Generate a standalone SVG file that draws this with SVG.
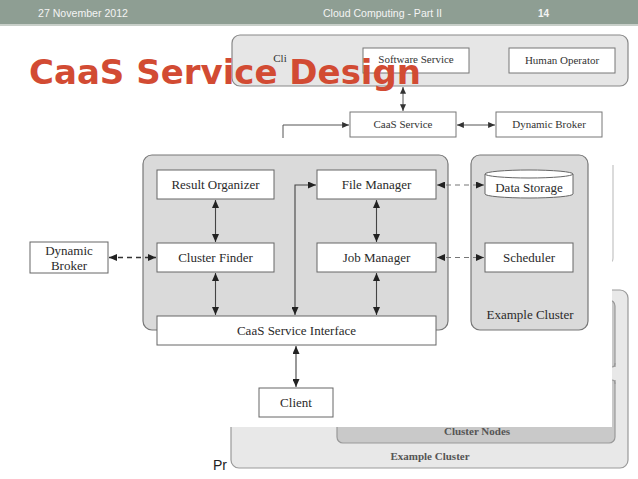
<svg xmlns="http://www.w3.org/2000/svg" width="638" height="479" viewBox="0 0 638 479">
<defs>
<marker id="ah" viewBox="0 0 8 7" refX="8" refY="3.5" markerWidth="8" markerHeight="7" markerUnits="userSpaceOnUse" orient="auto-start-reverse">
<path d="M0,0 L8,3.5 L0,7 Z" fill="#222"/>
</marker>
<marker id="ahs" viewBox="0 0 8 7" refX="8" refY="3.5" markerWidth="7" markerHeight="6" markerUnits="userSpaceOnUse" orient="auto-start-reverse">
<path d="M0,0 L8,3.5 L0,7 Z" fill="#333"/>
</marker>
</defs>
<style>
.hdr{font-family:"Liberation Sans",Arial,sans-serif;font-size:10px;fill:#f4f4f4}
.t{font-family:"Liberation Serif","Times New Roman",serif;font-size:13px;fill:#2a2a2a;text-anchor:middle}
.ts{font-family:"Liberation Serif","Times New Roman",serif;font-size:11px;fill:#333;text-anchor:middle}
.tb{font-family:"Liberation Serif","Times New Roman",serif;font-size:11px;font-weight:bold;fill:#555;text-anchor:middle}
.box{fill:#fff;stroke:#666;stroke-width:1}
.bbox{fill:#fff;stroke:#777;stroke-width:1}
.cont{fill:#dadada;stroke:#777;stroke-width:1.2}
.ln{fill:none;stroke:#444;stroke-width:1.1}
.dash{fill:none;stroke:#333;stroke-width:1.4;stroke-dasharray:5 4}
.dashg{fill:none;stroke:#777;stroke-width:1.2;stroke-dasharray:5 4}
.lns{fill:none;stroke:#555;stroke-width:1}
</style>
<rect x="0" y="0" width="638" height="479" fill="#fff"/>
<!-- header -->
<rect x="0" y="0" width="638" height="24" fill="#8e9e93"/>
<rect x="0" y="24" width="638" height="2" fill="#c8cfc9"/>
<text class="hdr" x="38" y="17" textLength="90" lengthAdjust="spacingAndGlyphs">27 November 2012</text>
<text class="hdr" x="323" y="17" textLength="119" lengthAdjust="spacingAndGlyphs">Cloud Computing - Part II</text>
<text class="hdr" x="538" y="17" font-weight="bold" font-size="11">14</text>
<!-- slide body text partially hidden -->
<text x="213" y="470" font-family="Liberation Sans,Arial,sans-serif" font-size="14" fill="#222">Pr</text>
<!-- background image: lower cluster -->
<g id="bg-example-cluster">
<rect x="231" y="290" width="397" height="178" rx="8" fill="#e8e8e8" stroke="#999" stroke-width="1.2"/>
<text class="tb" x="430" y="460">Example Cluster</text>
</g>
<g id="bg-cluster-nodes">
<rect x="337" y="300" width="278" height="143" rx="6" fill="#c9c9c9" stroke="#999" stroke-width="1.2"/>
<rect x="612" y="367" width="6" height="13" fill="#e8e8e8"/>
<path d="M612,367 q3,0 3,-4 M612,380 q3,0 3,4" fill="none" stroke="#999" stroke-width="1.2"/>
<text class="tb" x="477" y="435" fill="#444">Cluster Nodes</text>
</g>
<path d="M613,165 V258 q0,4 -3,4" fill="none" stroke="#c4c4c4" stroke-width="1.2"/>
<!-- background image: top -->
<g id="bg-client-region">
<rect x="232" y="35" width="396" height="51" rx="8" fill="#e6e6e6" stroke="#888" stroke-width="1.2"/>
<text class="ts" x="280" y="62" text-anchor="start">Cli</text>
</g>
<g id="bg-software-service">
<rect class="bbox" x="363" y="48" width="106" height="25"/>
<text class="ts" x="416" y="63">Software Service</text>
</g>
<g id="bg-human-operator">
<rect class="bbox" x="509" y="48" width="106" height="25"/>
<text class="ts" x="562" y="64">Human Operator</text>
</g>
<g id="bg-caas-service">
<rect class="bbox" x="350" y="112" width="106" height="25"/>
<text class="ts" x="403" y="128">CaaS Service</text>
</g>
<g id="bg-dynamic-broker">
<rect class="bbox" x="496" y="112" width="106" height="25"/>
<text class="ts" x="549" y="128">Dynamic Broker</text>
</g>
<g id="bg-connectors">
<path class="lns" d="M403,87 V111" marker-start="url(#ahs)" marker-end="url(#ahs)"/>
<path class="lns" d="M457,125 H495" marker-start="url(#ahs)" marker-end="url(#ahs)"/>
<path class="lns" d="M283,138 V125 H349" marker-end="url(#ahs)"/>
</g>
<!-- title -->
<text x="29" y="84" font-family="DejaVu Sans,Liberation Sans,Arial,sans-serif" font-size="34" font-weight="bold" fill="#d24b33">CaaS Service Design</text>
<!-- front image -->
<rect x="20" y="139" width="592" height="288" fill="#fff"/>
<g id="caas-container">
<rect class="cont" x="143" y="155" width="305" height="175" rx="9"/>
</g>
<g id="example-cluster">
<rect class="cont" x="471" y="155" width="117" height="175" rx="9"/>
<text class="t" x="530" y="319">Example Cluster</text>
</g>
<g id="result-organizer">
<rect class="box" x="157" y="170" width="117" height="29"/>
<text class="t" x="215.5" y="189">Result Organizer</text>
</g>
<g id="cluster-finder">
<rect class="box" x="157" y="243" width="117" height="29"/>
<text class="t" x="215.5" y="262">Cluster Finder</text>
</g>
<g id="dynamic-broker">
<rect class="box" x="30" y="242" width="78" height="31"/>
<text class="t" x="69" y="255">Dynamic</text>
<text class="t" x="69" y="270">Broker</text>
</g>
<g id="file-manager">
<rect class="box" x="317" y="170" width="119" height="29"/>
<text class="t" x="376.5" y="189">File Manager</text>
</g>
<g id="job-manager">
<rect class="box" x="317" y="243" width="119" height="29"/>
<text class="t" x="376.5" y="262">Job Manager</text>
</g>
<g id="data-storage">
<path d="M485,174 A44,4 0 0 1 573,174 V194 A44,4 0 0 1 485,194 Z" fill="#fff" stroke="#666" stroke-width="1"/>
<path d="M485,174 A44,4 0 0 0 573,174" fill="none" stroke="#666" stroke-width="1"/>
<text class="t" x="529" y="192">Data Storage</text>
</g>
<g id="scheduler">
<rect class="box" x="485" y="243" width="88" height="29"/>
<text class="t" x="529" y="262">Scheduler</text>
</g>
<g id="caas-service-interface">
<rect class="box" x="157" y="316" width="279" height="29"/>
<text class="t" x="296.5" y="335">CaaS Service Interface</text>
</g>
<g id="client">
<rect class="box" x="259" y="388" width="74" height="29"/>
<text class="t" x="296" y="407">Client</text>
</g>
<g id="connectors">
<path class="ln" d="M215.5,200 V242" marker-start="url(#ah)" marker-end="url(#ah)"/>
<path class="ln" d="M215.5,273 V315" marker-start="url(#ah)" marker-end="url(#ah)"/>
<path class="ln" d="M376.5,200 V242" marker-start="url(#ah)" marker-end="url(#ah)"/>
<path class="ln" d="M376.5,273 V315" marker-start="url(#ah)" marker-end="url(#ah)"/>
<path class="ln" d="M295,315 V185 H316" marker-start="url(#ah)" marker-end="url(#ah)"/>
<path class="ln" d="M296,346 V387" marker-start="url(#ah)" marker-end="url(#ah)"/>
<path class="dash" d="M109,257.5 H156" marker-start="url(#ah)" marker-end="url(#ah)"/>
<path class="dashg" d="M437,185 H484" marker-start="url(#ah)" marker-end="url(#ah)"/>
<path class="dashg" d="M437,257.5 H484" marker-start="url(#ah)" marker-end="url(#ah)"/>
</g>
</svg>
